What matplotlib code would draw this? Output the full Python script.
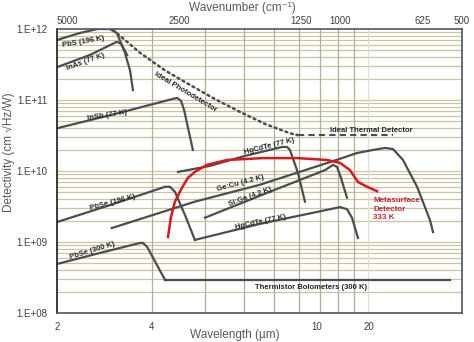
import matplotlib
matplotlib.use("Agg")
import matplotlib.pyplot as plt
from matplotlib.ticker import FixedLocator, NullLocator

plt.rcParams['font.family'] = ['Liberation Sans', 'DejaVu Sans']

# detector curves: wavelength (um) and detectivity D* (cm Hz^1/2 / W)
pbs_196_um = [2.00, 2.28, 2.52, 2.70, 2.81, 2.89, 2.98]
pbs_196_d = [7.0e11, 8.8e11, 1.0e12, 1.0e12, 8.8e11, 6.0e11, 4.3e11]

inas_77_um = [2.00, 2.41, 2.81, 2.88, 2.94, 3.03, 3.08]
inas_77_d = [2.9e11, 4.3e11, 6.6e11, 6.2e11, 4.7e11, 2.6e11, 1.38e11]

insb_77_um = [2.00, 2.78, 3.85, 3.96, 4.05, 4.12, 4.33]
insb_77_d = [4.0e10, 6.35e10, 1.03e11, 1.07e11, 9.7e10, 7.2e10, 1.98e10]

ideal_photo_um = [2.75, 3.21, 3.70, 4.26, 4.91, 5.66, 6.53, 7.52, 7.87]
ideal_photo_d = [9.7e11, 4.6e11, 2.6e11, 1.63e11, 1.03e11, 6.8e10, 4.6e10, 3.4e10, 3.2e10]

ideal_thermal_um = [7.87, 13.51]
ideal_thermal_d = [3.2e10, 3.2e10]

hgcdte_hi_um = [3.98, 4.77, 5.82, 7.19, 7.40, 7.52, 7.87, 8.19]
hgcdte_hi_d = [9.7e9, 1.18e10, 1.63e10, 2.18e10, 2.18e10, 1.98e10, 9.4e9, 3.7e9]

meta_um = [3.76, 3.82, 3.91, 4.07, 4.21, 4.38, 4.69, 5.26, 6.45, 7.83, 9.28,
           10.0, 10.58, 11.07, 11.66, 12.34]
meta_d = [1.18e9, 2.2e9, 3.7e9, 5.8e9, 8.0e9, 9.7e9, 1.22e10, 1.43e10, 1.52e10,
          1.52e10, 1.43e10, 1.30e10, 1.03e10, 7.0e9, 6.0e9, 5.2e9]

gecu_um = [2.73, 4.38, 6.34, 9.61, 11.01, 12.06, 12.91, 13.51, 14.30, 15.49, 16.67, 16.96]
gecu_d = [1.57e9, 3.7e9, 6.4e9, 1.38e10, 1.79e10, 1.98e10, 2.11e10, 2.04e10,
          1.43e10, 6.0e9, 2.04e9, 1.38e9]

siga_um = [4.64, 6.71, 9.18, 9.61, 9.83, 10.05, 10.40]
siga_d = [2.2e9, 5.1e9, 1.03e10, 1.22e10, 1.14e10, 8.0e9, 4.2e9]

pbse_196_um = [2.00, 2.70, 3.70, 3.80, 3.91, 4.14, 4.38]
pbse_196_d = [1.91e9, 3.3e9, 6.0e9, 6.0e9, 5.1e9, 2.4e9, 1.07e9]

hgcdte_lo_um = [4.38, 6.34, 9.18, 10.0, 10.40, 10.70, 11.07]
hgcdte_lo_d = [1.07e9, 1.80e9, 2.8e9, 3.1e9, 2.9e9, 2.2e9, 1.14e9]

pbse_300_um = [2.00, 2.55, 3.21, 3.26, 3.34, 3.70]
pbse_300_d = [4.9e8, 7.0e8, 9.7e8, 9.7e8, 8.5e8, 2.9e8]

thermistor_um = [3.70, 18.68]
thermistor_d = [2.9e8, 2.9e8]

# axes furniture
grid_um = [3.43, 4.64, 5.79, 6.87, 7.92, 8.92, 9.88, 10.82]
grid_light_um = [11.72]
bottom_tick_um = [2.0, 3.43, 8.77, 11.76]
bottom_tick_labels = ['2', '4', '10', '20']
wavenumbers = [5000, 2500, 1250, 1000, 625, 500]
ytick_vals = [1e8, 1e9, 1e10, 1e11, 1e12]
ytick_labels = ['1.E+08', '1.E+09', '1.E+10', '1.E+11', '1.E+12']

# curve labels: text, x (um), y (D*), rotation
curve_labels = [
    ('PbS (196 K)', 2.32, 6.6e11, 10),
    ('InAs (77 K)', 2.35, 3.4e11, 20),
    ('Ideal Photodetector', 4.16, 1.30e11, -31),
    ('InSb (77 K)', 2.66, 6.15e10, 9),
    ('HgCdTe (77 K)', 6.68, 2.25e10, 14),
    ('Ideal Thermal Detector', 11.92, 3.66e10, 0),
    ('PbSe (196 K)', 2.75, 3.54e9, 15),
    ('Ge:Cu (4.2 K)', 5.69, 6.6e9, 15),
    ('Si:Ga (4.2 K)', 5.99, 4.3e9, 20),
    ('HgCdTe (77 K)', 6.38, 1.91e9, 12),
    ('PbSe (300 K)', 2.45, 7.5e8, 17),
    ('Thermistor Bolometers (300 K)', 8.48, 2.32e8, 0),
]

gray = '#4d4d4d'
red = '#d7191c'

fig = plt.figure(figsize=(4.74, 3.42), dpi=100)
ax = fig.add_axes([57 / 474, 1 - 313 / 342, 405 / 474, 284 / 342])
ax.set_xscale('log')
ax.set_yscale('log')
ax.set_xlim(2, 20)
ax.set_ylim(1e8, 1e12)

# grid
for dec in [1e8, 1e9, 1e10, 1e11]:
    for k in range(1, 10):
        ax.axhline(dec * k, color='#cbc4a0', lw=0.9, zorder=1)
for g in grid_um:
    ax.axvline(g, color='#b3af96', lw=0.9, zorder=1)
for g in grid_light_um:
    ax.axvline(g, color='#e2dfcf', lw=0.9, zorder=1)

lw = 1.6
ax.plot(pbs_196_um, pbs_196_d, color=gray, lw=lw, zorder=3)
ax.plot(inas_77_um, inas_77_d, color=gray, lw=lw, zorder=3)
ax.plot(insb_77_um, insb_77_d, color=gray, lw=lw, zorder=3)
ax.plot(ideal_photo_um, ideal_photo_d, color=gray, lw=1.8, ls=(0, (0.8, 1.5)),
        dash_capstyle='round', zorder=3)
ax.plot(ideal_thermal_um, ideal_thermal_d, color=gray, lw=1.5, ls=(0, (3, 2)), zorder=3)
ax.plot(hgcdte_hi_um, hgcdte_hi_d, color=gray, lw=lw, zorder=3)
ax.plot(gecu_um, gecu_d, color=gray, lw=lw, zorder=3)
ax.plot(siga_um, siga_d, color=gray, lw=lw, zorder=3)
ax.plot(pbse_196_um, pbse_196_d, color=gray, lw=lw, zorder=3)
ax.plot(hgcdte_lo_um, hgcdte_lo_d, color=gray, lw=lw, zorder=3)
ax.plot(pbse_300_um, pbse_300_d, color=gray, lw=lw, zorder=3)
ax.plot(thermistor_um, thermistor_d, color=gray, lw=lw, zorder=3)
ax.plot(meta_um, meta_d, color=red, lw=1.8, zorder=4)

for txt, x, y, rot in curve_labels:
    ax.text(x, y, txt, rotation=rot, rotation_mode='anchor', ha='center', va='center',
            fontsize=5.5, fontweight='bold', color='#262626', zorder=5)
ax.text(12.06, 2.9e9, 'Metasurface\nDetector\n333 K', ha='left', va='center',
        fontsize=5.8, fontweight='bold', color='#c0282d', linespacing=1.35, zorder=5)

# frame
ax.spines['left'].set_color('#1a1a1a')
ax.spines['bottom'].set_color('#555555')
ax.spines['top'].set_color('#4a5866')
ax.spines['right'].set_color('#4a5866')
for s in ax.spines.values():
    s.set_linewidth(1.2)
    s.set_zorder(6)

ax.yaxis.set_major_locator(FixedLocator(ytick_vals))
ax.yaxis.set_minor_locator(NullLocator())
ax.set_yticklabels(ytick_labels)
ax.xaxis.set_major_locator(FixedLocator(bottom_tick_um))
ax.xaxis.set_minor_locator(NullLocator())
ax.set_xticklabels(bottom_tick_labels)
ax.tick_params(length=0, labelsize=7, labelcolor='#404040')
ax.tick_params(axis='x', pad=6.5)
ax.tick_params(axis='y', pad=7)

top = ax.twiny()
top.set_xscale('log')
top.set_xlim(2, 20)
top.xaxis.set_major_locator(FixedLocator([1e4 / w for w in wavenumbers]))
top.xaxis.set_minor_locator(NullLocator())
top.set_xticklabels([str(w) for w in wavenumbers])
top.tick_params(length=0, labelsize=7, labelcolor='#404040', pad=2)
top.get_xticklabels()[0].set_ha('left')
for s in top.spines.values():
    s.set_visible(False)

fig.text(242 / 474, 1 - 8 / 342, 'Wavenumber (cm\u207b\u00b9)', ha='center', va='center',
         fontsize=8.5, color='#595959')
fig.text(235 / 474, 1 - 335 / 342, 'Wavelength (\u00b5m)', ha='center', va='center',
         fontsize=8.5, color='#595959')
fig.text(9 / 474, 1 - 152 / 342, 'Detectivity (cm \u221aHz/W)', ha='center', va='center',
         rotation=90, fontsize=8.5, color='#595959')

fig.savefig('out.png', dpi=100, facecolor='white')
